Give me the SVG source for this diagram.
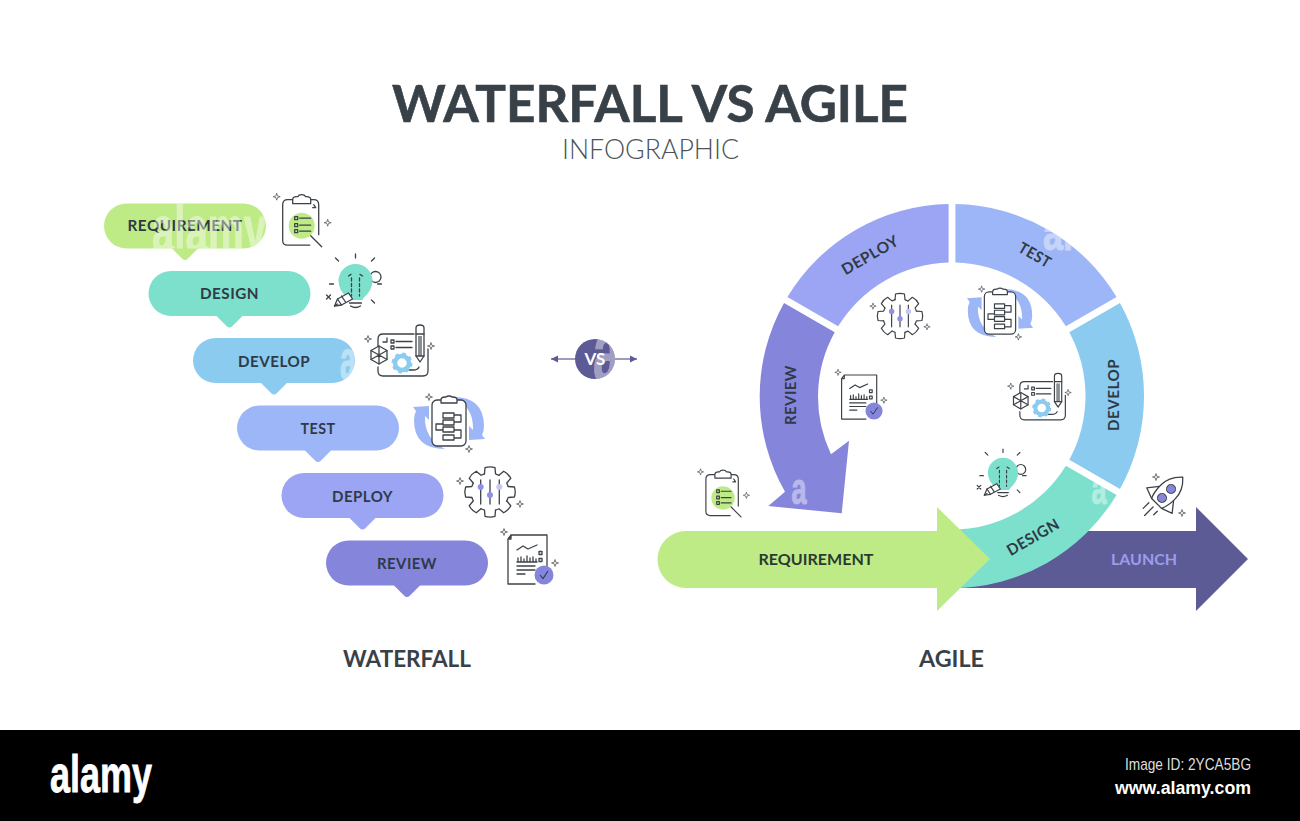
<svg xmlns="http://www.w3.org/2000/svg" xmlns:xlink="http://www.w3.org/1999/xlink" width="1300" height="821" viewBox="0 0 1300 821">
<style>
.t{font-family:Lato,"Liberation Sans",sans-serif;font-weight:700;fill:#2f3a47;text-anchor:middle;font-size:15.5px;letter-spacing:.5px}
.h{font-family:Lato,"Liberation Sans",sans-serif;font-weight:700;fill:#394148;text-anchor:middle}
.wm{font-family:"Liberation Sans",sans-serif;font-weight:700;fill:#fff;opacity:.42;stroke:#fff;stroke-width:1}
.ln{fill:none;stroke:#3d4248;stroke-width:1.300;stroke-linecap:round;stroke-linejoin:round}
.lw{fill:#fff;stroke:#3d4248;stroke-width:1.300;stroke-linejoin:round}
.sp{fill:none;stroke:#565a60;stroke-width:.8}
.g{fill:#bfeb87}.c{fill:#7de0cc}.b{fill:#8ccbf0}.p{fill:#9db6f7}.d{fill:#9ba5f4}.r{fill:#8585dc}.n{fill:#5c5b96}
</style>
<defs>
<marker id="ah" markerWidth="8" markerHeight="8" refX="6" refY="3" orient="auto-start-reverse"><path d="M0,0L6,3L0,6Z" fill="#5c5b96"/></marker>
<path id="sparkle" class="sp" d="M0-3.5L.8-.8L3.5 0L.8.8L0 3.5L-.8.8L-3.5 0L-.8-.8Z"/>
<path id="tail" d="M-14-1L-3 10Q0 13 3 10L14-1Z"/>
<path id="tooth" class="ln" d="M18.2-5.5L24.4-5Q26 0 24.4 5L18.2 5.5Q17.5 7 16.75 8.98"/>
<clipPath id="cReq"><rect x="104" y="203.500" width="162" height="45" rx="22.500"/></clipPath>
<clipPath id="cDev"><rect x="193" y="338" width="162" height="45" rx="22.500"/></clipPath>
<clipPath id="cTest"><path d="M955.400,204.030A192 192 0 0 1 1116.570,297.060L1065.880,326.330A133.500 133.500 0 0 0 955.400,262.540Z"/></clipPath>
<clipPath id="cVs"><circle cx="595" cy="359" r="20"/></clipPath>
<g id="i-clip">
<circle r="13" class="g"/>
<path class="ln" d="M-9-26H-14Q-19-26-19-21V15Q-19 19.500-14 19.500H8M17 9V-21Q17-26 12-26H9M-9-22V-26Q-9-29-5-29H-4Q-3-31 0-31Q3-31 4-29H5Q9-29 9-26V-22ZM12-21L14-18H11M9 10L20 21M-2-7.500H9M-2-.5H9M-2 5.500H9"/>
<path class="ln" d="M-7-9h3v3h-3zM-7-2h3v3h-3zM-7 4h3v3h-3z"/>
<use xlink:href="#sparkle" x="-25" y="-29"/><use xlink:href="#sparkle" x="26" y="-3"/>
</g>
<g id="i-bulb">
<circle cx="20" cy="-4" r="5.500" class="lw"/>
<path class="c" d="M-8 17Q-17 9-17 0A17 17 0 1 1 17 0Q17 9 8 17L7 19H-7Z"/>
<path class="ln" d="M-6 22H6M-5 25Q0 28 5 25M0-27V-23M-20-23L-17-20M19-23L16-20M-26 3H-22M22 3H26M19 22L16 19M-29 14L-25 18M-25 14L-29 18"/>
<path class="ln" stroke-dasharray="3 2.500" d="M-4-3V15M4-3V15M-7-5L-4-7M7-5L4-7"/>
<path class="lw" d="M-21 25L-18 18L-7 12L-3 18L-14 24Z"/>
<path class="ln" d="M-18 18L-14 24M-14 15L-10 21M-21 25L-18 23"/>
</g>
<g id="i-dev">
<path class="ln" d="M-24-16V-24Q-24-29-19-29H12M-24 4V8Q-24 13-19 13H21Q26 13 26 8V-14M-15-25V-21H-19M17 4Q16 7 11 7H7M-6-21.500H10M-6-15.500H10"/>
<path class="ln" d="M-11-23h3v3h-3zM-11-17h3v3h-3z"/>
<path class="lw" d="M-23-17L-15-12.500V-3.500L-23 1L-31-3.500V-12.500Z"/>
<path class="ln" d="M-23-17V-8L-15-12.500M-23-8L-31-12.500M-23-8V1M-23-8L-31-3.500M-23-8L-15-3.500"/>
<circle r="7" fill="none" stroke="#8ccbf0" stroke-width="4.500"/>
<circle r="9" fill="none" stroke="#8ccbf0" stroke-width="3" stroke-dasharray="3.500 3.570"/>
<path class="lw" d="M14-35Q14-38 18-38Q22-38 22-35V-7L18-1L14-7Z"/>
<path d="M16-27H20V-7H16Z" fill="#8a8d92"/>
<path class="ln" d="M14-29H22M14-7H22"/>
<use xlink:href="#sparkle" x="-34" y="-24"/><use xlink:href="#sparkle" x="29" y="-17"/>
</g>
<g id="i-test">
<path id="cyc" class="p" d="M-4 26Q-35 26-35-3Q-35-8-33-12L-36-16L-20-17L-20-3L-24-7Q-25 16-4 26Z"/>
<use xlink:href="#cyc" transform="rotate(180)"/>
<rect x="-17" y="-23" width="34" height="46" rx="5" class="lw"/>
<path class="lw" d="M-8-20V-23Q-8-26-4-26H-3Q-2-27 0-27Q2-27 3-26H4Q8-26 8-23V-20Z"/>
<path class="ln" d="M-6-10h11v5h-11zM-6-3h11v5h-11zM-6 4h11v5h-11zM-6 12h11v5h-11zM5-8H12V-1H5M-6 1H-13V7H-6M5 7H12V15H5"/>
<use xlink:href="#sparkle" x="-20" y="-26"/><use xlink:href="#sparkle" x="20" y="26"/>
</g>
<g id="i-gear">
<use xlink:href="#tooth"/><use xlink:href="#tooth" transform="rotate(45)"/><use xlink:href="#tooth" transform="rotate(90)"/><use xlink:href="#tooth" transform="rotate(135)"/><use xlink:href="#tooth" transform="rotate(180)"/><use xlink:href="#tooth" transform="rotate(225)"/><use xlink:href="#tooth" transform="rotate(270)"/><use xlink:href="#tooth" transform="rotate(315)"/>
<path class="ln" d="M-9.300-12V12M0-12V12M9.300-12V12"/>
<circle cx="-9.300" cy="-5" r="3" fill="#8f90e6"/><circle cy="3" r="3" fill="#8f90e6"/><circle cx="9.300" cy="-5" r="3" fill="#c5c6f5"/>
<use xlink:href="#sparkle" x="-30" y="-11"/><use xlink:href="#sparkle" x="30" y="12"/>
</g>
<g id="i-doc">
<path class="ln" d="M-33-40H3V-7M-33-40L-36-36V9H-9M-36-36H-33V-40M-27-25L-21-29L-16-26L-7-30M-27-13H-7M-26-13V-17M-23-13V-18M-20-13V-16M-17-13V-19M-14-13V-17M-11-13V-18M-8-13V-16M-27-9H-9M-27-5H-9M-27-1H-19"/>
<path class="ln" d="M-5-23.500h3v3h-3zM-5-16.500h3v3h-3z"/>
<circle r="9.500" class="r"/>
<path fill="none" stroke="#2f3a47" stroke-width="1.100" d="M-4 0L-1 3.500L4-4"/>
<use xlink:href="#sparkle" x="-40" y="-43"/><use xlink:href="#sparkle" x="11" y="-12"/>
</g>
</defs>
<rect width="1300" height="821" fill="#fff"/>
<g id="title">
<text class="h" x="650" y="122" font-size="51" stroke="#394148" stroke-width=".6" textLength="516" lengthAdjust="spacingAndGlyphs">WATERFALL VS AGILE</text>
<text x="650.500" y="158.500" text-anchor="middle" font-family="Lato,'Liberation Sans',sans-serif" font-weight="300" font-size="27" fill="#4b5258" textLength="177" lengthAdjust="spacingAndGlyphs">INFOGRAPHIC</text>
</g>
<g id="wf-requirement"><rect class="g" x="104" y="203.500" width="162" height="45" rx="22.500"/><use xlink:href="#tail" class="g" x="185" y="248.500"/><text class="t" x="185" y="231" textLength="115" lengthAdjust="spacingAndGlyphs">REQUIREMENT</text><use xlink:href="#i-clip" x="301.700" y="225.700"/></g>
<g id="wf-design"><rect class="c" x="148.500" y="271" width="162" height="45" rx="22.500"/><use xlink:href="#tail" class="c" x="229.500" y="316"/><text class="t" x="229.500" y="299" textLength="59" lengthAdjust="spacingAndGlyphs">DESIGN</text><use xlink:href="#i-bulb" x="355.500" y="281"/></g>
<g id="wf-develop"><rect class="b" x="193" y="338" width="162" height="45" rx="22.500"/><use xlink:href="#tail" class="b" x="274" y="383"/><text class="t" x="274" y="366.500" textLength="72" lengthAdjust="spacingAndGlyphs">DEVELOP</text><use xlink:href="#i-dev" x="402" y="363"/></g>
<g id="wf-test"><rect class="p" x="237" y="405.500" width="162" height="45" rx="22.500"/><use xlink:href="#tail" class="p" x="318" y="450.500"/><text class="t" x="318" y="434" textLength="35" lengthAdjust="spacingAndGlyphs">TEST</text><use xlink:href="#i-test" x="449" y="423"/></g>
<g id="wf-deploy"><rect class="d" x="281.500" y="473" width="162" height="45" rx="22.500"/><use xlink:href="#tail" class="d" x="362.500" y="518"/><text class="t" x="362.500" y="501.500" textLength="61" lengthAdjust="spacingAndGlyphs">DEPLOY</text><use xlink:href="#i-gear" x="490" y="492"/></g>
<g id="wf-review"><rect class="r" x="326" y="540.500" width="162" height="45" rx="22.500"/><use xlink:href="#tail" class="r" x="407" y="585.500"/><text class="t" x="407" y="569" textLength="60" lengthAdjust="spacingAndGlyphs">REVIEW</text><use xlink:href="#i-doc" x="544" y="575"/></g>
<g id="connectors">
<path d="M575 359H551" fill="none" stroke="#5c5b96" stroke-width="1.200" marker-end="url(#ah)"/>
<path d="M615 359H637" fill="none" stroke="#5c5b96" stroke-width="1.200" marker-end="url(#ah)"/>
</g>
<g id="vs"><circle cx="595" cy="359" r="20" class="n"/><text class="wm" clip-path="url(#cVs)" x="593" y="381" font-size="85" textLength="27" lengthAdjust="spacingAndGlyphs">a</text><text x="595" y="365" text-anchor="middle" font-family="Lato,sans-serif" font-weight="700" font-size="17" fill="#fff">VS</text></g>
<g id="ag-launch"><path class="n" d="M955 531H1196V507L1248 559L1196 611V588H955Z"/><text x="1144" y="565" text-anchor="middle" font-family="Lato,sans-serif" font-weight="700" font-size="16" fill="#9c9cec" textLength="66" lengthAdjust="spacingAndGlyphs">LAUNCH</text></g>
<g id="ag-design"><path class="c" d="M1116.570,494.940A192 192 0 0 1 952,588L952,529.500A133.500 133.500 0 0 0 1065.880,465.670Z"/><text class="t" transform="translate(1033,537) rotate(-30)" y="5.500" textLength="58" lengthAdjust="spacingAndGlyphs">DESIGN</text></g>
<g id="ag-requirement"><path class="g" d="M686 531H937V507L990 559L937 611V588H686A28.500 28.500 0 0 1 686 531Z"/><text x="816" y="565" text-anchor="middle" font-family="Lato,sans-serif" font-weight="700" font-size="16" fill="#2b3a30" textLength="115" lengthAdjust="spacingAndGlyphs">REQUIREMENT</text></g>
<g id="ag-develop"><path class="b" d="M1119.970,302.940A192 192 0 0 1 1119.970,489.060L1069.280,459.790A133.500 133.500 0 0 0 1069.280,332.210Z"/><text class="t" transform="translate(1113,395) rotate(-90)" y="5.500" textLength="72" lengthAdjust="spacingAndGlyphs">DEVELOP</text></g>
<g id="ag-test"><path class="p" d="M955.400,204.030A192 192 0 0 1 1116.570,297.060L1065.880,326.330A133.500 133.500 0 0 0 955.400,262.540Z"/><text class="wm" clip-path="url(#cTest)" x="1043" y="250" font-size="48" textLength="30" lengthAdjust="spacingAndGlyphs">al</text><text class="t" transform="translate(1035,255) rotate(30)" y="5.500" textLength="35" lengthAdjust="spacingAndGlyphs">TEST</text></g>
<g id="ag-deploy"><path class="d" d="M787.430,297.060A192 192 0 0 1 948.600,204.030L948.600,262.540A133.500 133.500 0 0 0 838.120,326.330Z"/><text class="t" transform="translate(870,255) rotate(-30)" y="5.500" textLength="63" lengthAdjust="spacingAndGlyphs">DEPLOY</text></g>
<g id="ag-review"><path class="r" d="M784.030,302.940A192 192 0 0 0 785,491.700L768.300,506L841.700,513.300L849,440.700L831,454.300A133.500 133.500 0 0 1 834.720,332.210Z"/><text class="t" transform="translate(790,395) rotate(-90)" y="5.500" textLength="60" lengthAdjust="spacingAndGlyphs">REVIEW</text></g>
<g id="ag-icons">
<use xlink:href="#i-clip" transform="translate(723,498) scale(.9)"/>
<use xlink:href="#i-bulb" transform="translate(1003,473) scale(.89)"/>
<use xlink:href="#i-dev" transform="translate(1041.700,408) scale(.91)"/>
<use xlink:href="#i-test" transform="translate(1000,313) scale(.92)"/>
<use xlink:href="#i-gear" transform="translate(900,316) scale(.9)"/>
<use xlink:href="#i-doc" transform="translate(874,411) scale(.9)"/>
</g>
<g id="ag-rocket">
<g transform="translate(1166.500,493.500) rotate(45)">
<path class="lw" d="M-10 0L-18 10L-7 14ZM10 0L18 10L7 14Z"/>
<path class="lw" d="M0-23Q10-14 10-2Q10 8 7 14H-7Q-10 8-10-2Q-10-14 0-23Z"/>
<circle cy="-6.400" r="4.500" fill="#8585dc" stroke="#3d4248" stroke-width="1"/><circle cy="6.400" r="4.500" fill="#8585dc" stroke="#3d4248" stroke-width="1"/>
<path class="ln" d="M-6 19V27M0 19V31M6 19V24"/>
</g>
<use xlink:href="#sparkle" x="1156" y="477"/><use xlink:href="#sparkle" x="1182" y="513"/>
</g>
<text class="h" x="407" y="667" font-size="23" textLength="128" lengthAdjust="spacingAndGlyphs">WATERFALL</text>
<text class="h" x="951.500" y="667" font-size="23" textLength="65" lengthAdjust="spacingAndGlyphs">AGILE</text>
<g id="watermarks">
<text class="wm" clip-path="url(#cReq)" x="152" y="252" font-size="66" textLength="114" lengthAdjust="spacingAndGlyphs">alamy</text>
<text class="wm" clip-path="url(#cDev)" x="340" y="379" font-size="55" textLength="16" lengthAdjust="spacingAndGlyphs">a</text>
<text class="wm" x="791.500" y="504" font-size="45" textLength="15" lengthAdjust="spacingAndGlyphs">a</text>
<text class="wm" x="1091.500" y="504" font-size="45" textLength="15" lengthAdjust="spacingAndGlyphs">a</text>
</g>
<g id="footer">
<rect y="730" width="1300" height="91" fill="#000"/>
<text x="50" y="792" font-family="'Liberation Sans',sans-serif" font-weight="700" font-size="52" stroke="#fff" stroke-width=".8" fill="#fff" textLength="102" lengthAdjust="spacingAndGlyphs">alamy</text>
<text x="1251" y="770" text-anchor="end" font-family="'Liberation Sans',sans-serif" font-size="17" fill="#ddd" textLength="126" lengthAdjust="spacingAndGlyphs">Image ID: 2YCA5BG</text>
<text x="1251" y="794" text-anchor="end" font-family="'Liberation Sans',sans-serif" font-weight="700" font-size="18" fill="#fff" textLength="136" lengthAdjust="spacingAndGlyphs">www.alamy.com</text>
</g>
</svg>
